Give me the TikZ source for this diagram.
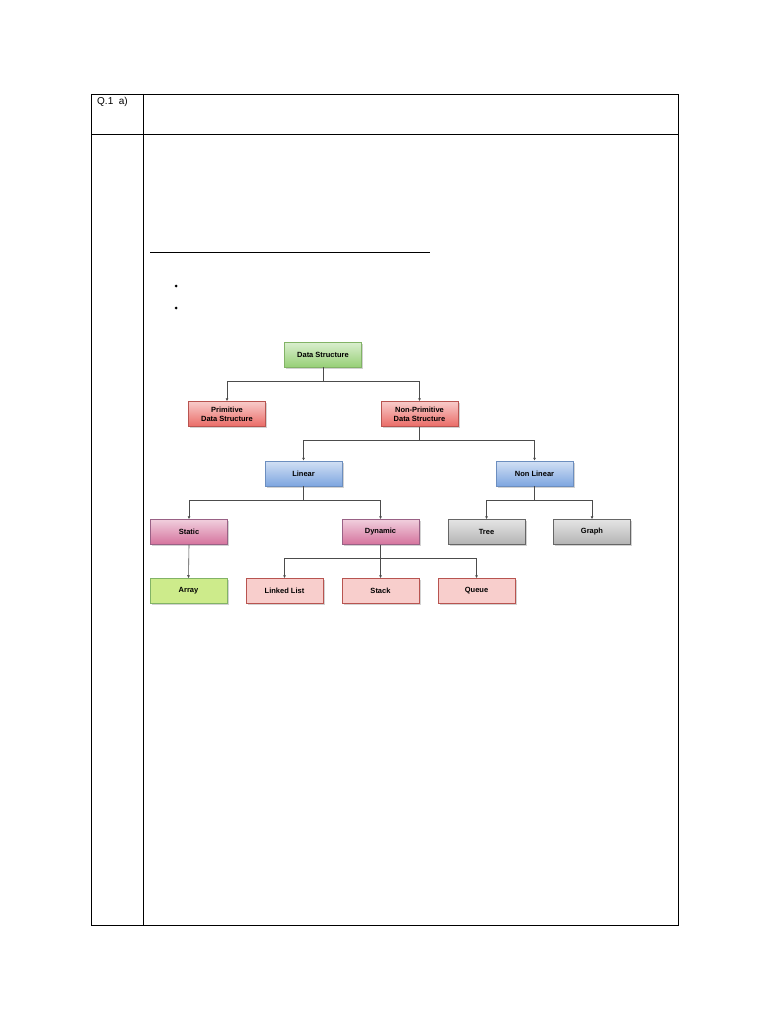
\documentclass[tikz,border=0pt]{standalone}
\usepackage{fontspec}
\setmainfont{Liberation Sans}
\usetikzlibrary{shadows}
\begin{document}
\begin{tikzpicture}[x=1pt,y=-1pt,
  box/.style={minimum width=77pt,minimum height=25pt,inner sep=0pt,align=center,
    font=\fontsize{7.5}{9}\selectfont\bfseries,draw=#1,line width=0.5pt,drop shadow={shadow xshift=1.5pt,shadow yshift=-1.5pt,opacity=0.35}},
  gbox/.style 2 args={box=#2,top color=#1!35!white,bottom color=#1},
  fbox/.style 2 args={box=#2,fill=#1},
  con/.style={draw=black!70,line width=0.6pt},
  arr/.style={con,-{Latex[length=3pt,width=3pt]}}]
\usetikzlibrary{arrows.meta}
\useasboundingbox (0,0) rectangle (768,1024);
\fill[white] (0,0) rectangle (768,1024);
% table
\draw[line width=0.8pt] (91,94) rectangle (678,925);
\draw[line width=0.8pt] (143,94) -- (143,925);
\draw[line width=0.8pt] (91,134) -- (678,134);
\node[anchor=north west,inner sep=0pt,font=\fontsize{10}{12}\selectfont] (q) at (97,97) {Q.1\ \ a)};
\draw[line width=0.5pt] (150,252) -- (430,252);
\fill (176,286) circle (1.5pt);
\fill (176,308) circle (1.5pt);
% nodes
\definecolor{gA}{HTML}{97D077}\definecolor{gD}{HTML}{82B366}
\definecolor{rA}{HTML}{EA6B66}\definecolor{rD}{HTML}{B85450}
\definecolor{bA}{HTML}{7EA6E0}\definecolor{bD}{HTML}{6C8EBF}
\definecolor{pA}{HTML}{D5739D}\definecolor{pD}{HTML}{996185}
\definecolor{yA}{HTML}{B3B3B3}\definecolor{yD}{HTML}{666666}
\definecolor{lA}{HTML}{CDEB8B}\definecolor{lD}{HTML}{82B366}
\definecolor{kA}{HTML}{F8CECC}\definecolor{kD}{HTML}{B85450}
\node[gbox={gA}{gD}] (ds) at (323,354.5) {Data Structure};
\node[gbox={rA}{rD}] (pr) at (227,414) {Primitive\\Data Structure};
\node[gbox={rA}{rD}] (np) at (419.5,414) {Non-Primitive\\Data Structure};
\node[gbox={bA}{bD}] (li) at (303.5,473.5) {Linear};
\node[gbox={bA}{bD}] (nl) at (534.5,473.5) {Non Linear};
\node[gbox={pA}{pD}] (st) at (189,532) {Static};
\node[gbox={pA}{pD}] (dy) at (380.5,532) {Dynamic};
\node[gbox={yA}{yD}] (tr) at (486.5,532) {Tree};
\node[gbox={yA}{yD}] (gr) at (592,532) {Graph};
\node[fbox={lA}{lD}] (ar) at (188.5,591) {Array};
\node[fbox={kA}{kD}] (ll) at (284.5,591) {Linked List};
\node[fbox={kA}{kD}] (sk) at (380.5,591) {Stack};
\node[fbox={kA}{kD}] (qu) at (476.5,591) {Queue};
% connectors
\draw[con] (ds.south) -- ++(0,14.5) coordinate (b1);
\draw[arr] (b1) -| (pr.north);
\draw[arr] (b1) -| (np.north);
\draw[con] (np.south) -- ++(0,14) coordinate (b2);
\draw[arr] (b2) -| (li.north);
\draw[arr] (b2) -| (nl.north);
\draw[con] (li.south) -- ++(0,14) coordinate (b3);
\draw[arr] (b3) -| (st.north);
\draw[arr] (b3) -| (dy.north);
\draw[con] (nl.south) -- ++(0,14) coordinate (b4);
\draw[arr] (b4) -| (tr.north);
\draw[arr] (b4) -| (gr.north);
\draw[arr] (st.south) -- (ar.north);
\draw[con] (dy.south) -- ++(0,14) coordinate (b5);
\draw[arr] (b5) -| (ll.north);
\draw[arr] (b5) -- (sk.north);
\draw[arr] (b5) -| (qu.north);
\end{tikzpicture}
\end{document}
